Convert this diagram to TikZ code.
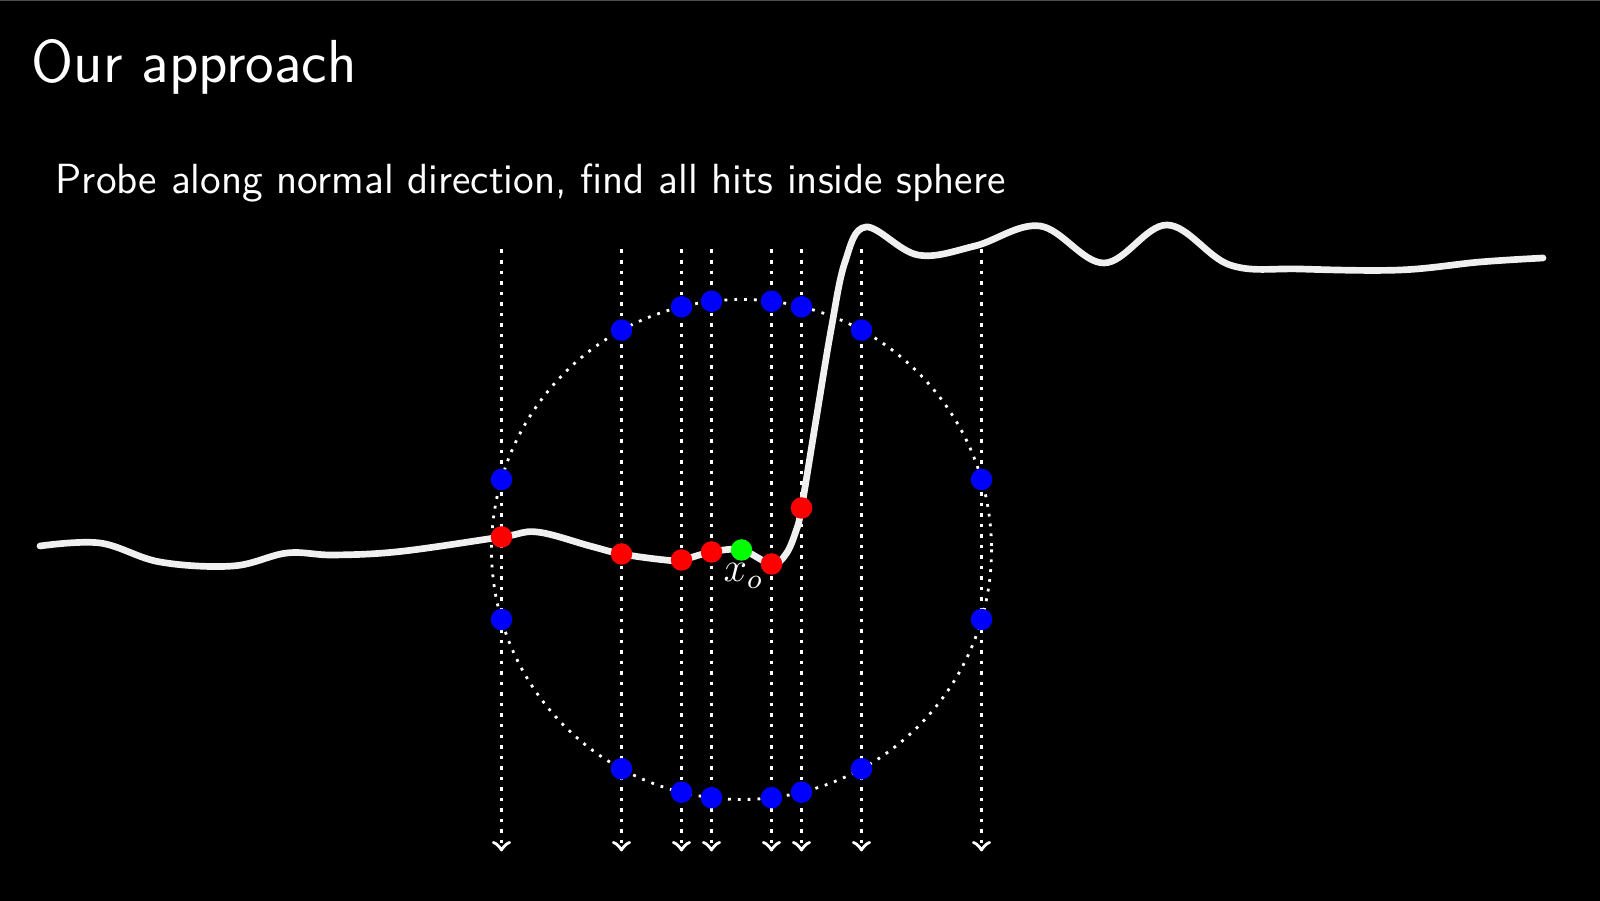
\documentclass[tikz,border=0pt]{standalone}
\usepackage{fontspec}
\usepackage{tikz}
\usetikzlibrary{calc, positioning}

\begin{document}
\begin{tikzpicture}[x=0.1mm, y=-0.1mm, >=to,
    probe/.style={white, line width=1pt, dotted, ->},
    hit/.style={circle, fill=red, inner sep=0pt, minimum size=2.15mm},
    miss/.style={circle, fill=blue, inner sep=0pt, minimum size=2.15mm},
    surf/.style={white!94!black, line width=1.9pt, line cap=round}]
    % 1. Nền
    \fill[black] (0,0) rectangle (1600,901);
    \fill[black!70] (0,0) rectangle (1600,1.5);
    \useasboundingbox (0,0) rectangle (1600,901);

    % 2. Tiêu đề
    \node[anchor=base west, inner sep=0pt, text=white,
          font=\fontsize{17.28}{20}\selectfont\sffamily] (title) at (31,83) {Our approach};
    \node[anchor=base west, inner sep=0pt, text=white,
          font=\fontsize{12}{14}\selectfont\sffamily] (caption) at (55,194)
          {Probe along normal direction, find all hits inside sphere};

    % 3. Tia dò và mặt cầu
    \coordinate (xo) at (741.5,549.5);
    \foreach \d [count=\i] in {-240,-120,-60,-30,30,60,120,240} {
        \coordinate (t\i) at ($(xo)+(\d,-300)$);
        \coordinate (b\i) at ($(xo)+(\d,302)$);
        \draw[probe] (t\i) -- (b\i);
    }
    \draw[white, thick, dotted] (xo) circle[radius=250];

    % 4. Bề mặt
    \draw[surf] plot[smooth, tension=0.6] coordinates {
        (40,546) (100,543) (160,562) (233,566) (287,553) (333,555)
        (400,551.5) (501.5,537) (537,532) (590,546) (621.5,554) (665,560)
        (681.5,560) (711.5,552) (741.5,550) (771.5,564) (786,554) (796,531)
        (801.5,508) (816,420) (831,330) (845,262) (866,227)
        (918,255) (975,246) (1040,226) (1104,263) (1167,225) (1230,265)
        (1300,269) (1400,270) (1480,262) (1543,258)};

    % 5. Điểm chạm
    \foreach \d [count=\i] in {-240,-120,-60,-30,30,60,120,240} {
        \pgfmathsetmacro\h{100*sqrt(6.25-(\d/100)^2)}
        \node[miss] (u\i) at ($(xo)+(\d,-\h)$) {};
        \node[miss] (l\i) at ($(xo)+(\d,\h)$) {};
    }
    \node[hit] (r1) at (501.5,537) {};
    \node[hit] (r2) at (621.5,554) {};
    \node[hit] (r3) at (681.5,560) {};
    \node[hit] (r4) at (711.5,552) {};
    \node[hit] (r5) at (771.5,564) {};
    \node[hit] (r6) at (801.5,508) {};
    \node[circle, fill=green, inner sep=0pt, minimum size=2.15mm] (g) at (741.5,550) {};
    \node[anchor=base west, inner sep=0pt, text=white,
          font=\fontsize{12}{14}\selectfont] (lbl) at (723,582) {$x_o$};
\end{tikzpicture}
\end{document}
